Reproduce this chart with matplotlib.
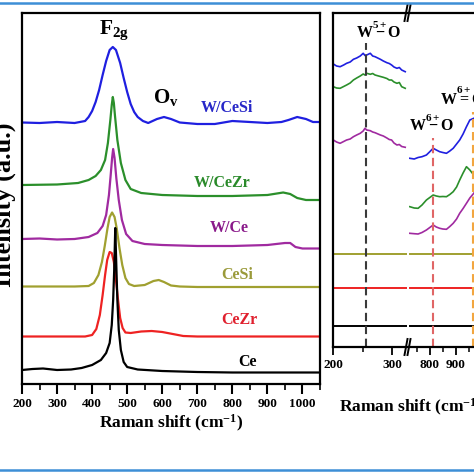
import matplotlib
matplotlib.use("Agg")
import matplotlib.pyplot as plt
from matplotlib.lines import Line2D

plt.rcParams['font.family'] = ['Liberation Serif', 'DejaVu Serif']
plt.rcParams['font.weight'] = 'bold'
plt.rcParams['axes.labelweight'] = 'bold'
plt.rcParams['mathtext.fontset'] = 'custom'
plt.rcParams['mathtext.rm'] = 'Liberation Serif:bold'
plt.rcParams['mathtext.it'] = 'Liberation Serif:bold'
plt.rcParams['mathtext.bf'] = 'Liberation Serif:bold'

# -------------------------
# left panel spectra (Raman shift, intensity a.u.)

wcesi_x = [200, 250, 300, 350, 380, 390, 400, 410, 420, 430, 440, 450, 459, 468, 480, 490, 500, 510, 520, 530, 545,
           560, 585, 605, 625, 650, 700, 750, 800, 850, 900, 940, 960, 985, 1010, 1030, 1050]
wcesi_y = [261.5, 261, 262, 261, 263, 267, 273, 282, 294, 309, 323, 334, 337, 334, 321, 306, 292, 280, 272, 267, 263,
           261, 265, 267, 265, 261.5, 260, 260, 263, 262, 261, 262, 264, 267, 265, 262, 262]

wcezr_x = [200, 300, 360, 390, 410, 425, 437, 445, 452, 456, 459, 462, 465, 472, 482, 495, 510, 540, 600, 700, 800,
           900, 945, 965, 985, 1010, 1050]
wcezr_y = [199, 199.5, 201, 204, 208, 214, 224, 241, 264, 279, 287, 281, 269, 244, 221, 204, 195, 191, 189, 188, 188,
           189, 191.5, 190, 186, 184, 184]

wce_x = [200, 250, 300, 350, 390, 415, 430, 440, 448, 453, 457, 460, 464, 469, 476, 485, 497, 515, 550, 600, 700,
         800, 900, 950, 965, 980, 1000, 1050]
wce_y = [145, 145.5, 144.5, 145, 147, 151, 158, 169, 189, 209, 226, 235, 226, 206, 184, 164, 150, 143, 140, 139, 138,
         138, 139, 141, 141, 137, 135.5, 135.5]

cesi_x = [200, 350, 390, 405, 418, 428, 436, 444, 450, 457, 464, 470, 478, 486, 495, 505, 520, 550, 575, 590, 605,
          625, 650, 700, 1050]
cesi_y = [97.5, 97.5, 98, 101, 109, 122, 138, 156, 167, 171.5, 167, 156, 136, 119, 106, 100, 98, 99, 103, 104, 102,
          98.5, 97.5, 97, 97]

cezr_x = [200, 380, 400, 412, 422, 430, 437, 443, 450, 456, 462, 468, 474, 480, 487, 495, 510, 540, 570, 600, 630,
          660, 700, 1050]
cezr_y = [47.5, 47.5, 49, 55, 69, 89, 109, 124, 132, 131, 122, 104, 84, 66, 56, 51.5, 51, 52.5, 53, 52, 50,
          48, 47.5, 47.5]

ce_x = [200, 230, 260, 300, 340, 370, 400, 425, 440, 450, 456, 460, 463, 466, 469, 472, 476, 482, 490, 500, 530,
        600, 700, 800, 1050]
ce_y = [14, 15, 15.5, 14, 14.5, 16, 19, 24, 31, 41, 59, 84, 114, 156, 119, 84, 54, 34, 22, 17, 14.5,
        13, 12, 11.5, 11.5]

left_names = ['W/CeSi', 'W/CeZr', 'W/Ce', 'CeSi', 'CeZr', 'Ce']
line_colors = ['#1f1fe0', '#2b8f2b', '#a02aa0', '#a0a030', '#ee2222', '#000000']
text_colors = ['#2727c8', '#2a8a2a', '#8a1a8a', '#9a9a3a', '#e0202e', '#000000']
name_x = [786, 771, 791, 814, 820, 843]
name_y = [276, 201, 156, 109, 64, 22]

# -------------------------
# right panel (broken axis: 200-325 | 720-1100)

w5_x = [200.6, 206, 212, 218, 223, 229, 234.5, 240, 246, 251, 254, 257, 263, 267, 271, 280, 285, 291, 295, 299,
        303, 308, 312, 316, 322]
w5_blue = [320, 318, 317.3, 319, 320.7, 322, 324.7, 326, 328, 330.7, 328.5, 329, 330.7, 328, 327.3, 324.7, 323,
           321.3, 320.5, 319, 317, 315.7, 316.5, 314, 312.3]
w5_green = [297.3, 296, 295.7, 297.5, 299, 301, 304, 306, 308, 310, 309, 310.7, 309.7, 310.5, 309, 307.5, 306.7,
            305.5, 304, 304, 302, 300.7, 301.5, 297.3, 295.7]
w5_purple = [244, 242, 240.7, 242.5, 244, 245, 247.3, 249, 250.7, 253, 255.7, 254, 253.3, 252, 251.3, 249, 248,
             246, 244.5, 244, 241, 239, 239.5, 237.5, 236.7]

w6_x = [723, 740, 755, 770, 787, 800, 813, 825, 838, 850, 864, 877, 890, 903, 915, 928, 941, 954, 969, 985, 1000,
        1030, 1100]
w6_blue = [225.7, 225, 226.5, 227.3, 229, 232.3, 235.7, 234, 232.3, 231.5, 230.7, 233, 235.7, 240, 244, 250, 257.3,
           264, 265.7, 267, 259, 244, 234]
w6_green = [177.3, 176, 175.7, 179, 184, 186.5, 189, 188, 187.3, 187.5, 187.3, 189.5, 192.3, 197, 204, 211, 217.3,
            214, 209, 201, 195, 189, 184]
w6_purple = [150.7, 150.3, 150, 151.5, 154, 156.5, 159, 157, 155.7, 155, 154.7, 157.5, 160.7, 165, 170.7, 175.5,
             180.7, 186, 190.7, 196, 193, 189, 184]

seg1_x = [200, 325]
seg2_x = [723, 1100]
flat_cesi = 130
flat_cezr = 95.7
flat_ce = 58.3

band_pos = [256, 813, 965]
band_top = [341, 246, 272]
band_colors = ['#3a3a3a', '#e06666', '#f2a640']

# -------------------------
# figure

fig = plt.figure(figsize=(4.74, 4.74), dpi=100)
W = H = 474.0


def px_axes(x0, y0, x1, y1):
    return fig.add_axes([x0 / W, 1 - y1 / H, (x1 - x0) / W, (y1 - y0) / H])


ax = px_axes(22, 13, 320, 384)
spectra = [(wcesi_x, wcesi_y), (wcezr_x, wcezr_y), (wce_x, wce_y),
           (cesi_x, cesi_y), (cezr_x, cezr_y), (ce_x, ce_y)]
for i, (sx, sy) in enumerate(spectra):
    ax.plot(sx, sy, color=line_colors[i], lw=1.6)
    ax.text(name_x[i], name_y[i], left_names[i], color=text_colors[i],
            fontsize=11.5, ha='center', va='center', fontweight='bold')

ax.text(463, 354, r"F$_{2g}$", fontsize=15.5, ha='center', va='center')
ax.text(609, 286, r"O$_{v}$", fontsize=15, ha='center', va='center')

ax.set_xlim(200, 1050)
ax.set_ylim(0, 371)
ax.set_yticks([])
ax.set_xticks(range(200, 1001, 100))
ax.set_xticks(range(250, 1051, 100), minor=True)
ax.tick_params(axis='x', which='major', direction='out', length=7, width=1.5, labelsize=9.5, pad=3)
ax.tick_params(axis='x', which='minor', direction='out', length=4, width=1.2)
for sp in ax.spines.values():
    sp.set_linewidth(1.6)
ax.set_xlabel(r"Raman shift (cm$^{-1}$)", fontsize=12.5, fontweight='bold', labelpad=2)

fig.text(16 / W, 1 - 205 / H, "Intensity (a.u.)", rotation=90, fontsize=19,
         ha='right', va='center', fontweight='bold')

# right panel, two segments
ax1 = px_axes(333, 13, 407, 347)
ax2 = px_axes(409, 13, 409 + 380 * 0.26, 347)

ax1.plot(w5_x, w5_blue, color=line_colors[0], lw=1.2)
ax1.plot(w5_x, w5_green, color=line_colors[1], lw=1.2)
ax1.plot(w5_x, w5_purple, color=line_colors[2], lw=1.2)
ax2.plot(w6_x, w6_blue, color=line_colors[0], lw=1.2)
ax2.plot(w6_x, w6_green, color=line_colors[1], lw=1.2)
ax2.plot(w6_x, w6_purple, color=line_colors[2], lw=1.2)

for a, sx in ((ax1, seg1_x), (ax2, seg2_x)):
    a.plot(sx, [flat_cesi] * 2, color=line_colors[3], lw=1.4)
    a.plot(sx, [flat_cezr] * 2, color=line_colors[4], lw=1.4)
    a.plot(sx, [flat_ce] * 2, color=line_colors[5], lw=1.4)

ax1.plot([band_pos[0]] * 2, [37, band_top[0]], color=band_colors[0], lw=1.5, ls=(0, (4, 2.2)))
ax2.plot([band_pos[1]] * 2, [37, band_top[1]], color=band_colors[1], lw=1.5, ls=(0, (4, 2.2)))
ax2.plot([band_pos[2]] * 2, [37, band_top[2]], color=band_colors[2], lw=1.5, ls=(0, (4, 2.2)))

ax1.text(277, 352, r"W$\overset{5+}{-}$O", fontsize=11.5, ha='center', va='center')
ax2.text(807, 259, r"W$\overset{6+}{-}$O", fontsize=11.5, ha='center', va='center')
ax2.text(839, 286, r"W$\overset{6+}{=}$O", fontsize=11.5, ha='left', va='center')

ax1.set_xlim(200, 325)
ax2.set_xlim(720, 1100)
for a in (ax1, ax2):
    a.set_ylim(37, 371)
    a.set_yticks([])
    a.tick_params(axis='x', which='major', direction='out', length=6, width=1.3, labelsize=9.5, pad=3)
    a.tick_params(axis='x', which='minor', direction='out', length=3.5, width=1.1)
    for sp in a.spines.values():
        sp.set_linewidth(1.6)
ax1.spines['right'].set_visible(False)
ax2.spines['left'].set_visible(False)
ax1.set_xticks([200, 300])
ax1.set_xticks([250], minor=True)
ax2.set_xticks([800, 900])
ax2.set_xticks([750, 850, 950, 1000, 1050], minor=True)

fig.text(411 / W, 1 - 407 / H, r"Raman shift (cm$^{-1}$)", fontsize=12.5, ha='center', va='center',
         fontweight='bold')

# break marks
for yb in (13, 347):
    for dx in (-1.5, 1.5):
        fig.add_artist(Line2D([(406 + dx) / W, (409 + dx) / W], [1 - (yb + 8) / H, 1 - (yb - 8) / H],
                              color='black', lw=1.4))

# blue frame lines of the source image
for yl in (3, 470):
    fig.add_artist(Line2D([0, 1], [1 - yl / H, 1 - yl / H], color='#3d8fd6', lw=1.8))

fig.savefig("out.png", dpi=100)
